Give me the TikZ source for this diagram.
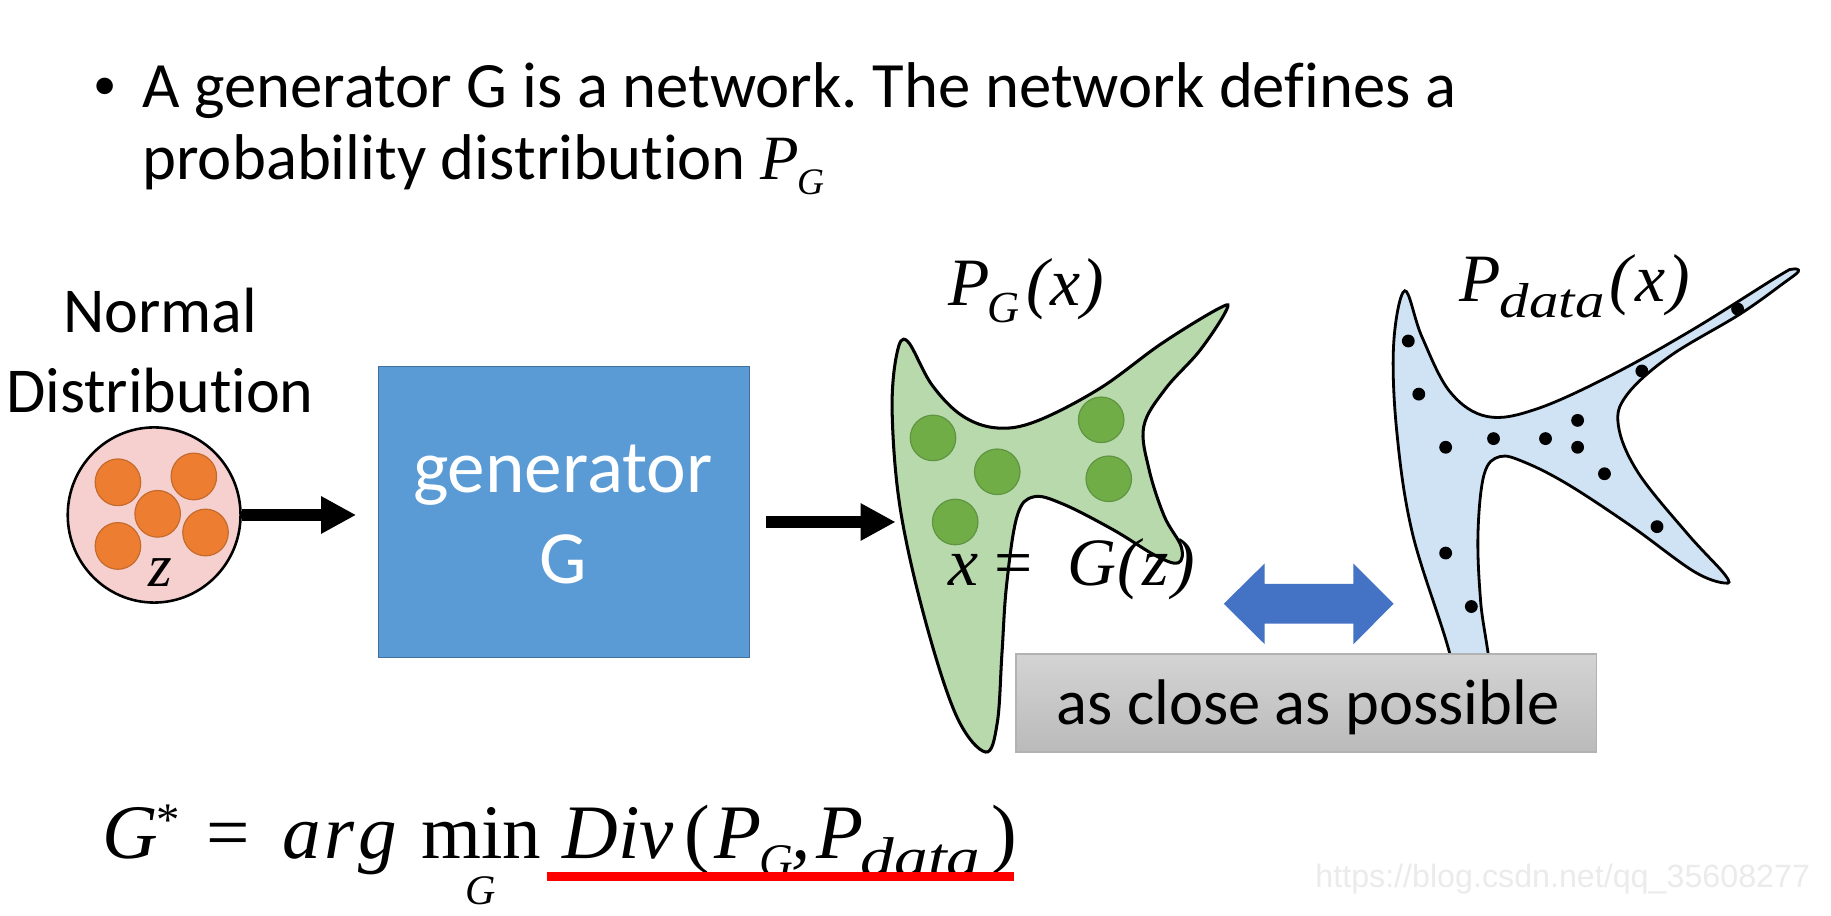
\documentclass[tikz,border=0pt]{standalone}
\usepackage{fontspec}
\setmainfont[Ligatures=NoCommon]{Carlito}
\newfontfamily\mth{Liberation Serif}
\newfontfamily\msub[FakeStretch=1.2]{Liberation Serif}
\newfontfamily\wm{Liberation Sans}
\usetikzlibrary{arrows.meta,calc,shapes.geometric}
\newcommand{\fs}[1]{\fontsize{#1}{#1}\selectfont}
\newcommand{\subx}[2]{\raisebox{-0.24em}{\fs{#1}\msub\itshape #2}}
\newcommand{\subg}[1]{\raisebox{-0.24em}{\fs{#1}\mth\itshape G}}
\definecolor{orangedot}{HTML}{ED7D31}
\definecolor{orangeedge}{HTML}{C46A2B}
\definecolor{pinkfill}{HTML}{F6CFCF}
\definecolor{genblue}{HTML}{5B9BD5}
\definecolor{genedge}{HTML}{41719C}
\definecolor{greenblob}{HTML}{B7D9AB}
\definecolor{greendot}{HTML}{70AD47}
\definecolor{greenedge}{HTML}{5F9440}
\definecolor{blueblob}{HTML}{D0E3F4}
\definecolor{dblarrow}{HTML}{4472C4}
\tikzset{
  txt/.style={inner sep=0pt,outer sep=0pt,align=center},
  orangeball/.style={ellipse,minimum width=19.5pt,minimum height=20pt,inner sep=0pt},
  bigarrow/.style={line width=5pt,-{Triangle[length=15pt,width=15pt]}},
  blob/.style={draw=black,line width=1.3pt,smooth cycle,tension=0.6},
  fm/.style={txt,anchor=base west,font=\fs{33}\mth\itshape},
}
\begin{document}
\frenchspacing
\begin{tikzpicture}[x=0.5pt,y=-0.5pt]
\useasboundingbox (0,0) rectangle (1568,784);
\fill[white] (0,0) rectangle (1568,784);

% heading
\node[txt,anchor=center] (bullet) at (90,76) {\fs{20}\textbullet};
\node[txt,anchor=base west] (line1) at (122,92) {\fs{27.7}A generator G is a network. The network defines a};
\node[txt,anchor=base west] (line2) at (122,154) {\fs{27.7}probability distribution {\fs{27}\mth\itshape P\kern-1pt\subg{16}}};

% source
\node[txt] (normal) at (137,266) {\fs{27.4}Normal};
\node[txt] (distr) at (137,334) {\fs{27.4}Distribution};
\node[draw=black,line width=1.1pt,fill=pinkfill,ellipse,minimum width=74pt,minimum height=75pt,inner sep=0pt] (zc) at (132,441) {};
\foreach \n/\p in {o1/{101,413},o2/{166,408},o3/{135,440},o4/{101,467.5},o5/{176,456}}{
  \node[orangeball,draw=orangeedge,line width=0.5pt,fill=orangedot] (\n) at (\p) {};
}
\node[txt] (zlab) at (137,490) {\fs{26}\mth\itshape z};

% generator
\node[draw=genedge,line width=0.6pt,fill=genblue,minimum width=159pt,minimum height=124.5pt,inner sep=0pt] (gen) at (483,438.5) {};
\node[txt,text=white] (gtxt) at (482,407) {\fs{32.2}generator};
\node[txt,text=white] (gg) at (482,479) {\fs{32.2}G};

\coordinate (a1e) at (305,441);
\coordinate (a2s) at (656,447);
\coordinate (a2e) at (767,447);
\draw[bigarrow] (zc.east|-a1e) -- (a1e);
\draw[bigarrow] (a2s) -- (a2e);

% green distribution
\draw[blob,fill=greenblob] plot coordinates {(777,292) (798,329.5) (824,356) (854,366.5) (888,360.5) (942,332.5) (995,294) (1044,264) (1050,266) (1027.6,300) (998,333) (979.5,365) (984,402) (997,442) (1011.5,468) (1009,482) (990,476) (953,453.5) (910,431.5) (885,425.5) (871,442) (862,501) (858,560) (854,619) (844,644) (819,613) (792,530) (771,436) (764,353) (768,303)};
\foreach \n/\p in {g1/{799,375},g2/{854,404},g3/{943,359.5},g4/{949.5,410},g5/{818,447}}{
  \node[ellipse,draw=greenedge,line width=0.5pt,fill=greendot,minimum width=19.5pt,minimum height=19.5pt,inner sep=0pt] (\n) at (\p) {};
}
\node[txt,anchor=base west] (pg) at (812,262) {\fs{29}\mth\itshape P\kern-1pt\subg{19}\kern3pt(\kern0.5pt x\kern0.5pt)};
\node[txt,anchor=base west] (xg) at (812,501) {\fs{29}\mth\itshape x\kern7pt{\upshape =}\kern15pt G\kern0.5pt(\kern1pt z\kern1.5pt)};

% blue distribution
\draw[blob,fill=blueblob,line width=1.2pt] plot coordinates {(1203,249) (1217.5,288) (1241.6,335.4) (1273.7,356.7) (1316.5,350) (1381,320.7) (1450,282) (1522,237) (1535,230.5) (1540,232.5) (1528,242) (1490,269) (1430,305) (1393,338.4) (1386,365) (1403,405) (1445,457) (1477,492) (1477,499.3) (1450,489) (1397,450.6) (1343,415) (1306,396) (1284.4,391) (1271,406) (1265.7,456.5) (1268,515.6) (1276,589) (1255,630) (1241.6,560) (1209.5,456.5) (1196,368) (1193.5,294)};
\foreach \n/\p in {b1/{1206,292},b2/{1215,337.5},b3/{1238,383},b4/{1279,375.6},b5/{1323.5,375.6},b6/{1351,360},b7/{1351,383},b8/{1374,405.7},b9/{1419,451},b10/{1238,473.6},b11/{1260,519.4},b12/{1406,317.7},b13/{1488,264.6}}{
  \node[circle,fill=black,minimum size=5.5pt,inner sep=0pt] (\n) at (\p) {};
}
\node[txt,anchor=base west] (pd) at (1250,258) {\fs{29}\mth\itshape P\kern-0.5pt\subx{21}{data}\kern2pt(\kern1.5pt x\kern1pt)};

% double arrow
\fill[dblarrow] (1048,517) -- (1083,482.5) -- (1083,500) -- (1159,500) -- (1159,482.5) -- (1193.5,517) -- (1159,551.6) -- (1159,534) -- (1083,534) -- (1083,551.6) -- cycle;

% gray box
\node[draw=black!30,line width=0.6pt,top color=black!17,bottom color=black!27,minimum width=248.5pt,minimum height=42pt,inner sep=0pt] (closebox) at (1118.5,602) {};
\node[txt] (closetxt) at (1120,606) {\fs{27.6}as close as possible};

% formula
\node[fm] (f1) at (88,735) {G\kern-1pt\raisebox{0.3em}{\fs{20}\upshape *}};
\node[fm] (f2) at (177,735) {\upshape =};
\node[fm] (f3) at (242,735) {a\kern1.5pt r\kern1.5pt g};
\node[fm] (f4) at (361,735) {\upshape min};
\node[txt,anchor=center,font=\fs{18}\mth\itshape] (f5) at (412,763) {G};
\node[fm] (f6) at (482,735) {Div};
\node[fm] (f7) at (586,735) {\upshape (};
\node[fm] (f8) at (612,735) {P\kern-1pt\subg{20}};
\node[fm] (f8b) at (678,735) {,};
\node[fm] (f9) at (699,735) {P\kern-1pt\subx{24}{data}};
\node[fm] (f10) at (849,735) {\upshape )};
\coordinate (rl) at (468,750.5);
\coordinate (rr) at (868.5,750.5);
\draw[red,line width=3.8pt] (rl) -- (rr);

% watermark
\node[txt,anchor=base east,text=black!8] (wm) at (1550,760) {\fs{13.8}\wm https://blog.csdn.net/qq\_35608277};
\end{tikzpicture}
\end{document}
